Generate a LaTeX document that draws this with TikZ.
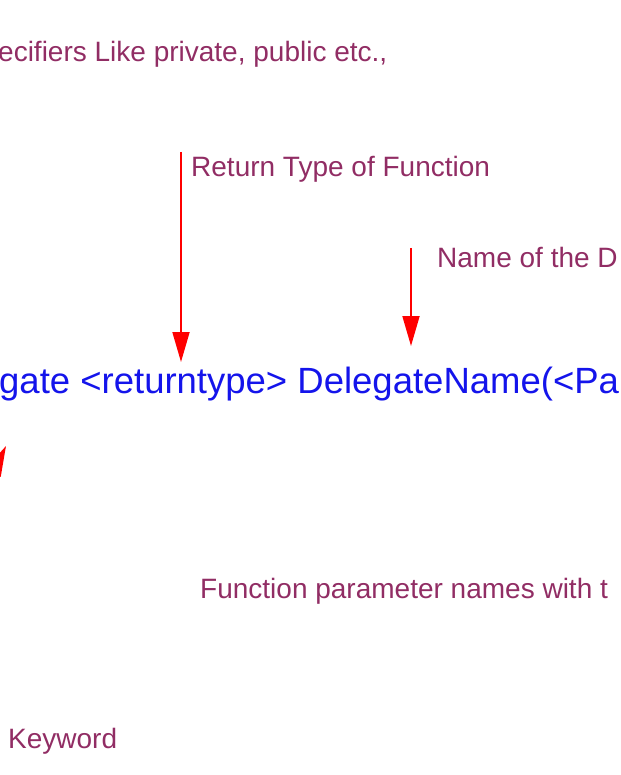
\documentclass[tikz,border=0pt]{standalone}
\usepackage{fontspec}
\setmainfont{Liberation Sans}
\usetikzlibrary{arrows.meta}
\definecolor{notecol}{RGB}{145,45,100}
\definecolor{codecol}{RGB}{20,20,235}
\tikzset{
  note/.style={anchor=base west, inner sep=0pt, text=notecol, font=\fontsize{28}{32}\selectfont},
  code/.style={anchor=base west, inner sep=0pt, text=codecol, font=\fontsize{36.5}{40}\selectfont},
  pointer/.style={red, line width=1.8pt, -{Triangle[width=17pt,length=30pt]}}
}
\begin{document}
\begin{tikzpicture}[x=1pt,y=-1pt]
	\useasboundingbox (0,0) rectangle (620,775);
	\clip (0,0) rectangle (620,775);
	% notes
	\node[note] (spec) at (-2,62) {ecifiers Like private, public etc.,};
	\node[note] (ret) at (191,177) {Return Type of Function};
	\node[note] (dname) at (437,267) {Name of the D};
	\node[note] (params) at (200,598) {Function parameter names with t};
	\node[note] (kw) at (8,748) {Keyword};
	% declaration
	\node[code] (decl) at (-1,393) {gate <returntype> DelegateName(<Pa};
	% pointers
	\coordinate (rettop) at (181,152);
	\coordinate (rettip) at (181,362);
	\coordinate (dtop) at (411,248);
	\coordinate (dtip) at (411,346);
	\coordinate (kwlow) at (-30,520);
	\coordinate (kwtip) at (6,446);
	\draw[pointer] (rettop) -- (rettip);
	\draw[pointer] (dtop) -- (dtip);
	\draw[pointer] (kwlow) -- (kwtip);
\end{tikzpicture}
\end{document}
